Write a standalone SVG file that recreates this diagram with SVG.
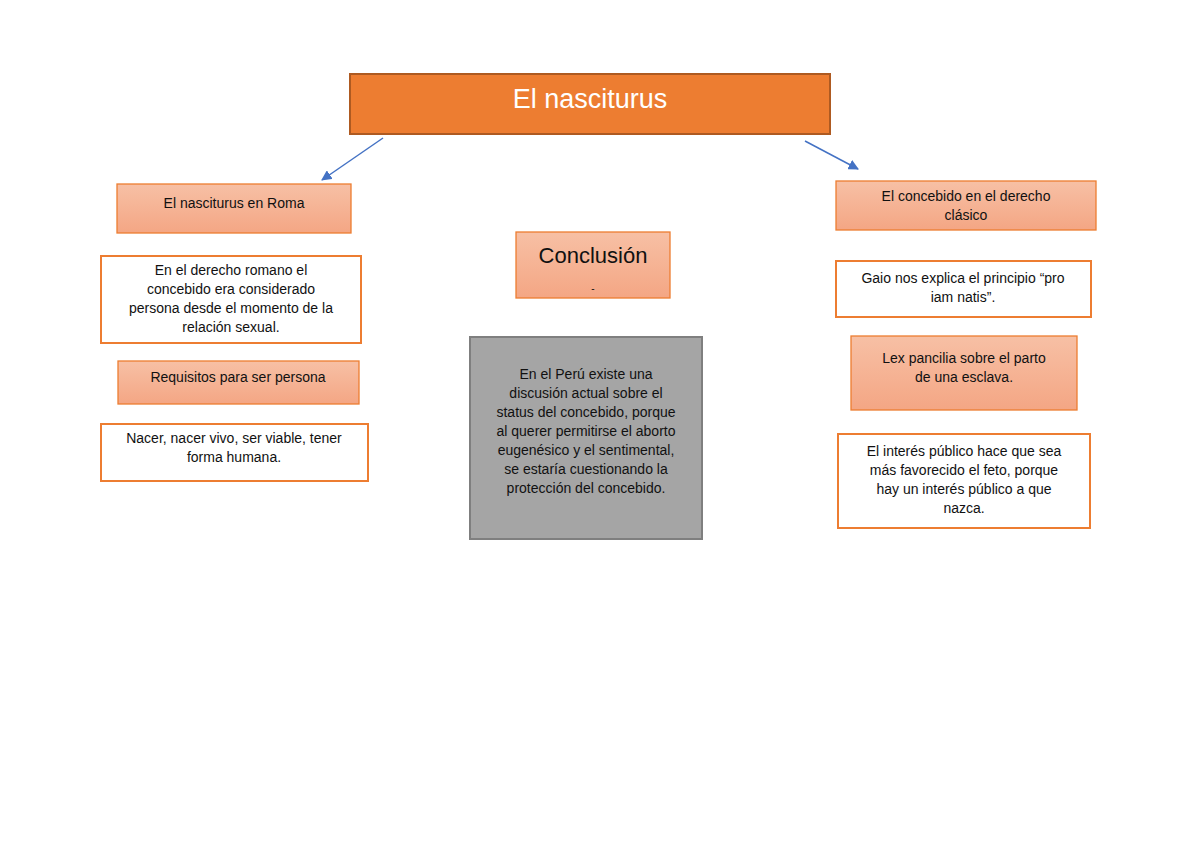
<svg xmlns="http://www.w3.org/2000/svg" width="1200" height="849" viewBox="0 0 1200 849">
<defs>
<linearGradient id="g" x1="0" y1="0" x2="0" y2="1"><stop offset="0" stop-color="#f7c0a5"/><stop offset="1" stop-color="#f4a684"/></linearGradient>
<marker id="a" viewBox="0 0 10 10" refX="9" refY="5" markerWidth="7" markerHeight="7" orient="auto"><path d="M0,0L10,5L0,10z" fill="#4472c4"/></marker>
</defs>
<style>
text{font-family:"Liberation Sans",Arial,sans-serif;font-size:14px;text-anchor:middle;fill:#111}
.p{fill:url(#g);stroke:#ed7d31;stroke-width:1.3}
.w{fill:#fff;stroke:#ed7d31;stroke-width:2}
</style>
<rect width="1200" height="849" fill="#fff"/>
<g id="connectors" stroke="#4472c4" stroke-width="1.5" fill="none" marker-end="url(#a)">
<line x1="383" y1="138" x2="322" y2="180"/>
<line x1="805" y1="141" x2="858" y2="169"/>
</g>
<g id="title"><rect x="350" y="74" width="480" height="60" fill="#ed7d31" stroke="#ae5a21" stroke-width="2"/><text x="590" y="108" style="font-size:27px;fill:#fff">El nasciturus</text></g>
<g id="roma"><rect class="p" x="117" y="184" width="234" height="49"/><text x="234" y="208">El nasciturus en Roma</text></g>
<g id="derecho-romano"><rect class="w" x="101" y="256" width="260" height="87"/><text x="231" y="275">En el derecho romano el</text><text x="231" y="294">concebido era considerado</text><text x="231" y="313">persona desde el momento de la</text><text x="231" y="332">relación sexual.</text></g>
<g id="requisitos"><rect class="p" x="118" y="361" width="241" height="43"/><text x="238" y="382">Requisitos para ser persona</text></g>
<g id="nacer"><rect class="w" x="101" y="424" width="267" height="57"/><text x="234" y="443">Nacer, nacer vivo, ser viable, tener</text><text x="234" y="462">forma humana.</text></g>
<g id="conclusion"><rect class="p" x="516" y="232" width="154" height="66"/><text x="593" y="263" style="font-size:22px">Conclusión</text><text x="593" y="292" style="font-size:10px">-</text></g>
<g id="peru"><rect x="470" y="337" width="232" height="202" fill="#a5a5a5" stroke="#7f7f7f" stroke-width="2"/>
<g style="fill:#fff"><text x="586" y="379" fill="#fff">En el Perú existe una</text><text x="586" y="398" fill="#fff">discusión actual sobre el</text><text x="586" y="417" fill="#fff">status del concebido, porque</text><text x="586" y="436" fill="#fff">al querer permitirse el aborto</text><text x="586" y="455" fill="#fff">eugenésico y el sentimental,</text><text x="586" y="474" fill="#fff">se estaría cuestionando la</text><text x="586" y="493" fill="#fff">protección del concebido.</text></g></g>
<g id="clasico"><rect class="p" x="836" y="181" width="260" height="49"/><text x="966" y="201">El concebido en el derecho</text><text x="966" y="220">clásico</text></g>
<g id="gaio"><rect class="w" x="836" y="261" width="255" height="56"/><text x="963" y="283">Gaio nos explica el principio “pro</text><text x="963" y="302">iam natis”.</text></g>
<g id="lex"><rect class="p" x="851" y="336" width="226" height="74"/><text x="964" y="363">Lex pancilia sobre el parto</text><text x="964" y="382">de una esclava.</text></g>
<g id="interes"><rect class="w" x="838" y="434" width="252" height="94"/><text x="964" y="456">El interés público hace que sea</text><text x="964" y="475">más favorecido el feto, porque</text><text x="964" y="494">hay un interés público a que</text><text x="964" y="513">nazca.</text></g>
</svg>
